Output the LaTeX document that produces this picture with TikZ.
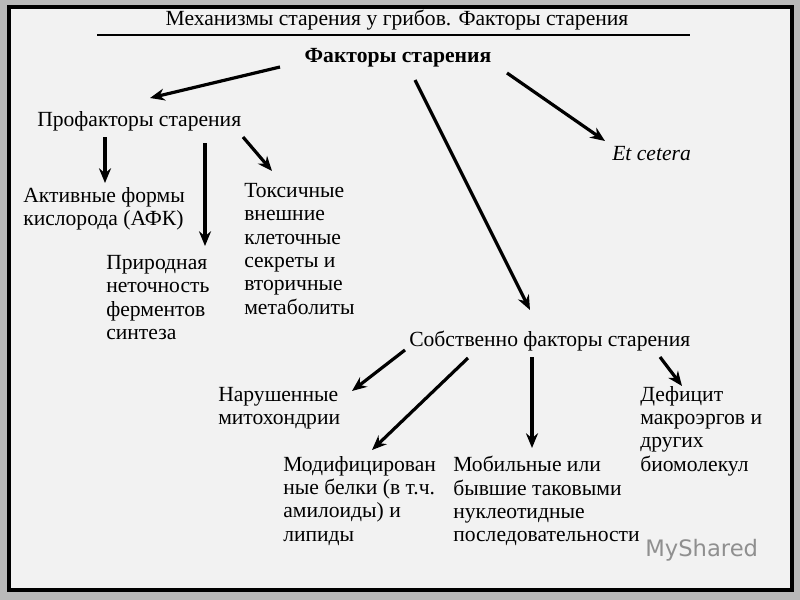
\documentclass[tikz,border=0pt]{standalone}
\usepackage{fontspec}
\setmainfont{Liberation Serif}
\setsansfont{DejaVu Sans}
\usetikzlibrary{arrows.meta}
\begin{document}
\begin{tikzpicture}[x=0.75pt,y=-0.75pt,
  fs/.style={font=\fontsize{16.2}{17.5}\selectfont},
  txt/.style={anchor=north west,align=left,inner sep=0pt,fs},
  arr/.style={line width=2.4pt,-{Stealth[length=11pt,width=9pt]}}]
\fill[gray!55] (0,0) rectangle (800,600);
\useasboundingbox (0,0) rectangle (800,600);
\draw[line width=2.5pt,fill=gray!10] (9,7) rectangle (792,590);
\node[anchor=center,inner sep=0pt,fs] (t) at (397,20) {Механизмы старения у грибов. Факторы старения};
\coordinate (l1) at (97,35); \coordinate (l2) at (690,35);
\draw[line width=2pt] (l1) -- (l2);
\node[anchor=center,inner sep=0pt,font=\bfseries\fontsize{16.2}{17.5}\selectfont] (f) at (398,58) {Факторы старения};
\node[anchor=west,inner sep=0pt,fs] (p) at (37,121) {Профакторы старения};
\node[anchor=west,inner sep=0pt,font=\itshape\fontsize{16.2}{17.5}\selectfont] (e) at (612,154) {Et cetera};
\node[txt] (a) at (23,187) {Активные формы\\кислорода (АФК)};
\node[txt] (n) at (106,255) {Природная\\неточность\\ферментов\\синтеза};
\node[txt] (k) at (244,183) {Токсичные\\внешние\\клеточные\\секреты и\\вторичные\\метаболиты};
\node[anchor=west,inner sep=0pt,fs] (s) at (409,341) {Собственно факторы старения};
\node[txt] (m) at (218,387) {Нарушенные\\митохондрии};
\node[txt] (b) at (283,456) {Модифицирован\\ные белки (в т.ч.\\амилоиды) и\\липиды};
\node[txt] (o) at (453,456) {Мобильные или\\бывшие таковыми\\нуклеотидные\\последовательности};
\node[txt] (d) at (640,386) {Дефицит\\макроэргов и\\других\\биомолекул};
\node[anchor=west,inner sep=0pt,text=gray!80!black,font=\sffamily\fontsize{17}{19}\selectfont,opacity=0.7] (w) at (645,550) {MyShared};
\coordinate (f1) at (280,67); \coordinate (f2) at (507,73); \coordinate (f3) at (415,80);
\coordinate (p1) at (105,137); \coordinate (p2) at (205,143); \coordinate (p3) at (243,137);
\coordinate (s1) at (405,350); \coordinate (s2) at (468,358); \coordinate (s3) at (532,357); \coordinate (s4) at (660,357);
\coordinate (pe) at (150,98); \coordinate (ee) at (605,141); \coordinate (se) at (530,310);
\coordinate (ae) at (105,183); \coordinate (ne) at (205,246); \coordinate (ke) at (272,171);
\coordinate (me) at (352,391); \coordinate (be) at (372,450); \coordinate (oe) at (532,448); \coordinate (de) at (682,386);
\draw[arr] (f1) -- (pe);
\draw[arr] (f2) -- (ee);
\draw[arr] (f3) -- (se);
\draw[arr] (p1) -- (ae);
\draw[arr] (p2) -- (ne);
\draw[arr] (p3) -- (ke);
\draw[arr] (s1) -- (me);
\draw[arr] (s2) -- (be);
\draw[arr] (s3) -- (oe);
\draw[arr] (s4) -- (de);
\end{tikzpicture}
\end{document}
